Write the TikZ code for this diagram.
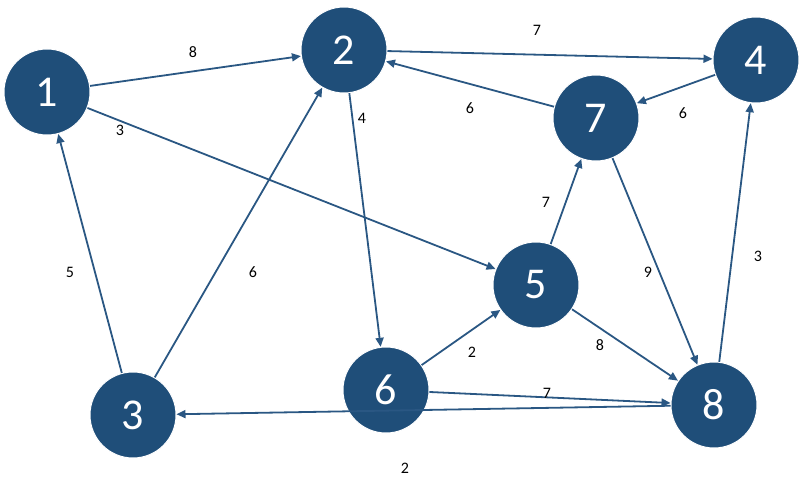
\documentclass[tikz,border=0pt]{standalone}
\usepackage{fontspec}
\setmainfont{Carlito}
\usetikzlibrary{arrows.meta}
\definecolor{nodeblue}{HTML}{1F4E79}
\definecolor{edgeblue}{HTML}{2A5783}
\begin{document}
\begin{tikzpicture}[x=1pt,y=-1pt,
  vert/.style={circle,fill=nodeblue,draw=white,line width=1pt,minimum size=86pt,inner sep=0pt,text=white,font=\fontsize{44}{44}\selectfont},
  edge/.style={draw=edgeblue,line width=1.8pt,-{Triangle[length=9pt,width=8pt]}},
  lbl/.style={font=\fontsize{16}{16}\selectfont,text=black}]
\useasboundingbox (0,0) rectangle (804,495);
\node[vert] (n1) at (47,92) {1};
\node[vert] (n2) at (344,50) {2};
\node[vert] (n4) at (756,60) {4};
\node[vert] (n7) at (596,118) {7};
\node[vert] (n5) at (536,285) {5};
\node[vert] (n6) at (386,390) {6};
\node[vert] (n3) at (133,415) {3};
\node[vert] (n8) at (714,405) {8};
\draw[edge] (n1) -- (n2);
\draw[edge] (n1) -- (n5);
\draw[edge] (n2) -- (n4);
\draw[edge] (n7) -- (n2);
\draw[edge] (n4) -- (n7);
\draw[edge] (n2) -- (n6);
\draw[edge] (n3) -- (n1);
\draw[edge] (n3) -- (n2);
\draw[edge] (n5) -- (n7);
\draw[edge] (n7) -- (n8);
\draw[edge] (n8) -- (n4);
\draw[edge] (n6) -- (n5);
\draw[edge] (n5) -- (n8);
\draw[edge] (n6) -- (n8);
\draw[edge] (n8) -- (n3);
\node[lbl] (l12) at (193,52) {8};
\node[lbl] (l15) at (120,130) {3};
\node[lbl] (l24) at (537,30) {7};
\node[lbl] (l72) at (470,108) {6};
\node[lbl] (l47) at (683,113) {6};
\node[lbl] (l26) at (362,118) {4};
\node[lbl] (l31) at (70,272) {5};
\node[lbl] (l32) at (253,272) {6};
\node[lbl] (l57) at (546,202) {7};
\node[lbl] (l78) at (648,272) {9};
\node[lbl] (l84) at (758,256) {3};
\node[lbl] (l65) at (472,352) {2};
\node[lbl] (l58) at (600,345) {8};
\node[lbl] (l68) at (547,393) {7};
\node[lbl] (l83) at (405,468) {2};
\end{tikzpicture}
\end{document}
